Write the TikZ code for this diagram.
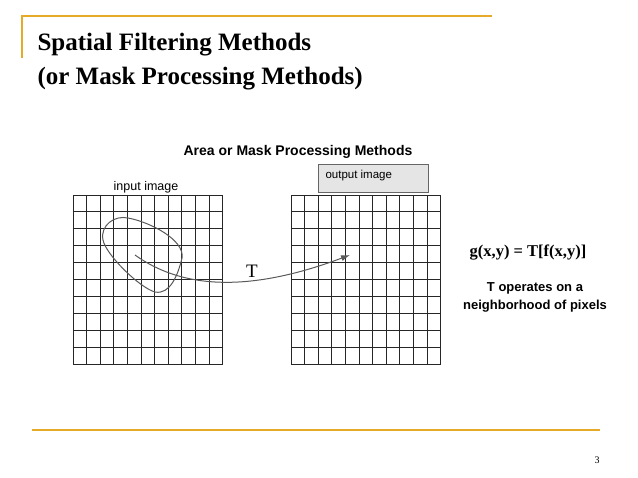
\documentclass[tikz,border=0pt]{standalone}
\usepackage{fontspec}
\setmainfont{Liberation Serif}
\setsansfont{Liberation Sans}
\usetikzlibrary{arrows.meta}
\definecolor{gold}{RGB}{228,170,40}
\tikzset{gridline/.style={draw=black!85,line width=0.9pt},
 curveline/.style={draw=black!65,line width=1pt}}
\begin{document}
\begin{tikzpicture}[x=1pt,y=-1pt]
\useasboundingbox (0,0) rectangle (638,478);
\draw[gold,line width=1.5pt] (22,58) -- (22,16) -- (492,16);
\draw[gold,line width=1.5pt] (32,430) -- (600,430);
\node[anchor=base west,font=\bfseries\fontsize{25}{28}\selectfont] (t1) at (34,51) {Spatial Filtering Methods};
\node[anchor=base west,font=\bfseries\fontsize{25}{28}\selectfont] (t2) at (34,85) {(or Mask Processing Methods)};
\node[font=\sffamily\bfseries\fontsize{14}{16}\selectfont] (hd) at (298,152) {Area or Mask Processing Methods};
\node[font=\sffamily\fontsize{12.5}{14}\selectfont] (in) at (146,187) {input image};
\node[draw=black!60,fill=black!10,minimum width=110pt,minimum height=28pt,anchor=north west,inner sep=0pt] (ob) at (318,164) {};
\node[font=\sffamily\fontsize{11.5}{13}\selectfont,anchor=west] (ot) at (322,176) {output image};
\foreach \xo in {73,291}{
 \foreach \i in {0,...,11} \draw[gridline] ({\xo+\i*13.6},195) -- ({\xo+\i*13.6},364);
 \foreach \j in {0,...,10} \draw[gridline] (\xo,{195+\j*16.9}) -- ({\xo+149.6},{195+\j*16.9});
}
\draw[curveline] (103,240) .. controls (100,225) and (115,215) .. (128,218)
 .. controls (150,222) and (185,240) .. (182,258)
 .. controls (178,275) and (170,295) .. (155,292)
 .. controls (140,288) and (106,255) .. (103,240) -- cycle;
\coordinate (s) at (135,255);
\coordinate (e) at (350,255);
\draw[curveline,-{Latex[length=9pt,width=6pt]}] (s) .. controls (170,280) and (230,300) .. (e);
\node[font=\fontsize{19}{21}\selectfont] (T) at (252,271) {T};
\node[font=\bfseries\fontsize{16.5}{19}\selectfont] (g) at (528,253) {g(x,y) = T[f(x,y)]};
\node[font=\sffamily\bfseries\fontsize{13}{18}\selectfont,align=center] (op) at (535,297) {T operates on a\\neighborhood of pixels};
\node[font=\fontsize{10}{12}\selectfont] (pg) at (597,460) {3};
\end{tikzpicture}
\end{document}
